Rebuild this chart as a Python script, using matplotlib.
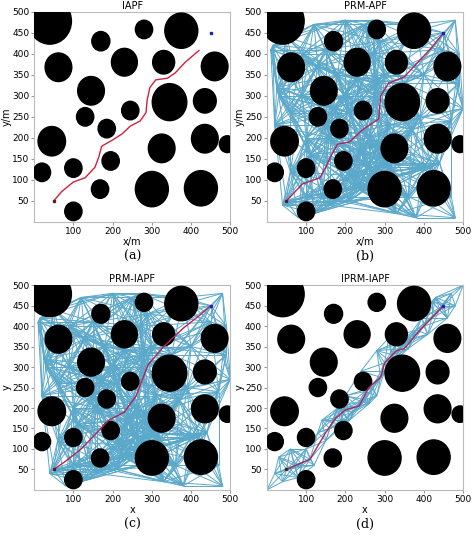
import matplotlib

matplotlib.use("Agg")
import matplotlib.pyplot as plt
from matplotlib.collections import LineCollection
from matplotlib.patches import Circle
import numpy as np

# obstacles: x, y, radius
obs_x = [40, 170, 280, 375, 62, 230, 330, 460, 145, 345, 435, 130, 245, 185, 45, 325, 435, 492, 20, 100, 195, 168, 300, 425, 100]
obs_y = [478, 430, 458, 455, 368, 380, 380, 370, 312, 285, 288, 250, 265, 222, 192, 175, 198, 185, 118, 128, 145, 78, 78, 80, 25]
obs_r = [55, 23, 22, 42, 34, 33, 28, 34, 34, 44, 29, 22, 22, 22, 35, 34, 34, 20, 22, 22, 22, 22, 42, 42, 22]

start = (50, 50)
goal = (450, 450)

path_a_x = [50, 70, 100, 130, 155, 165, 172, 200, 225, 245, 270, 285, 288, 295, 310, 340, 360, 385, 420]
path_a_y = [50, 72, 95, 105, 130, 155, 180, 195, 210, 228, 240, 260, 290, 320, 338, 342, 355, 380, 408]

path_b_x = [50, 90, 135, 150, 165, 180, 210, 245, 285, 290, 310, 350, 380, 420, 450]
path_b_y = [50, 90, 105, 130, 160, 185, 190, 220, 245, 300, 330, 345, 375, 415, 450]

path_c_x = [50, 80, 120, 160, 190, 230, 260, 280, 290, 330, 380, 420, 450]
path_c_y = [50, 70, 100, 140, 170, 190, 230, 280, 305, 350, 395, 425, 450]

path_d_x = [50, 110, 150, 175, 200, 235, 260, 290, 300, 330, 350, 390, 450]
path_d_y = [50, 75, 140, 175, 195, 205, 250, 275, 310, 340, 345, 390, 450]

# sampled roadmap nodes (wide sampling for PRM)
prm_x = [50, 10, 25, 40, 20, 15, 120, 200, 250, 270, 290, 230, 280, 300, 160, 150, 215, 260, 160, 120,
         80, 60, 210, 270, 400, 480, 500, 470, 380, 400, 420, 480, 490, 450, 370, 360, 380, 310, 130, 320,
         260, 90, 170, 450, 100, 30, 60, 140, 110, 240, 275, 285, 265, 200, 350, 390, 440, 490, 330, 270,
         180, 90, 50, 300, 470, 230, 100, 210, 290, 150]
prm_y = [50, 410, 320, 40, 230, 420, 470, 480, 470, 400, 430, 340, 330, 350, 200, 230, 110, 130, 40, 20,
         10, 260, 50, 60, 130, 10, 270, 240, 10, 350, 130, 480, 400, 410, 220, 60, 470, 230, 370, 120,
         200, 300, 270, 450, 200, 300, 120, 60, 160, 170, 300, 180, 90, 300, 330, 250, 140, 330, 20, 480,
         350, 400, 440, 140, 60, 80, 60, 260, 100, 410]

# roadmap nodes for IPRM (narrow band along the diagonal)
iprm_x = [0, 50, 30, 80, 60, 110, 130, 150, 170, 140, 190, 210, 230, 200, 250, 270, 240, 290, 300, 280,
          320, 340, 310, 360, 380, 400, 420, 440, 450, 470, 500, 460, 20, 120, 190, 260, 330, 420,
          40, 90, 100, 160, 220, 280, 300, 350, 370, 410, 430, 480, 70, 180, 250, 320, 395]
iprm_y = [0, 50, 80, 30, 100, 75, 140, 120, 175, 170, 195, 170, 205, 230, 240, 250, 290, 275, 310, 340,
          330, 345, 370, 345, 390, 400, 420, 440, 450, 480, 500, 420, 40, 60, 160, 210, 360, 460,
          20, 60, 100, 150, 190, 230, 290, 360, 370, 380, 470, 450, 60, 200, 220, 310, 420]


def edges(xs, ys, radius):
    pts = np.column_stack([xs, ys]).astype(float)
    return [[tuple(pts[i]), tuple(pts[j])] for i in range(len(pts)) for j in range(i + 1, len(pts))
            if np.hypot(*(pts[i] - pts[j])) < radius]


def draw(ax, title, path_x, path_y, path_color, ylabel, xlabel, label, segs=None):
    if segs:
        ax.add_collection(LineCollection(segs, colors="#5aa8ca", linewidths=0.7, zorder=2))
    for x, y, r in zip(obs_x, obs_y, obs_r):
        ax.add_patch(Circle((x, y), r, color="black", zorder=3))
    ax.plot(path_x, path_y, color=path_color, lw=1.0, zorder=4)
    ax.plot(*start, "s", color="#552222", ms=1.5, zorder=5)
    ax.plot(*goal, "s", color="#2020c0", ms=1.5, zorder=5)
    ax.set_xlim(0, 500)
    ax.set_ylim(0, 500)
    ax.set_xticks([100, 200, 300, 400, 500])
    ax.set_yticks([50, 100, 150, 200, 250, 300, 350, 400, 450, 500])
    ax.tick_params(labelsize=6.5, length=2, pad=1.5, color="#999999")
    for s in ax.spines.values():
        s.set_color("#bbbbbb")
    ax.set_title(title, fontsize=7, pad=2)
    ax.set_xlabel(xlabel, fontsize=7, labelpad=1)
    ax.set_ylabel(ylabel, fontsize=7, labelpad=0)
    ax.text(0.5, -0.135, label, transform=ax.transAxes, ha="center", va="top",
            fontsize=9, family="DejaVu Serif")


prm_segs = edges(prm_x, prm_y, 200)
iprm_segs = edges(iprm_x, iprm_y, 80)

fig = plt.figure(figsize=(4.74, 5.36), dpi=100)
ax_a = fig.add_axes([0.072, 0.586, 0.414, 0.392])
ax_b = fig.add_axes([0.563, 0.586, 0.414, 0.392])
ax_c = fig.add_axes([0.072, 0.086, 0.414, 0.382])
ax_d = fig.add_axes([0.563, 0.086, 0.414, 0.382])

draw(ax_a, "IAPF", path_a_x, path_a_y, "#d81e3c", "y/m", "x/m", "(a)")
draw(ax_b, "PRM-APF", path_b_x, path_b_y, "#b0245a", "y/m", "x/m", "(b)", prm_segs)
draw(ax_c, "PRM-IAPF", path_c_x, path_c_y, "#b0245a", "y", "x", "(c)", prm_segs)
draw(ax_d, "IPRM-IAPF", path_d_x, path_d_y, "#b0245a", "y", "x", "(d)", iprm_segs)

fig.savefig("out.png", dpi=100)
